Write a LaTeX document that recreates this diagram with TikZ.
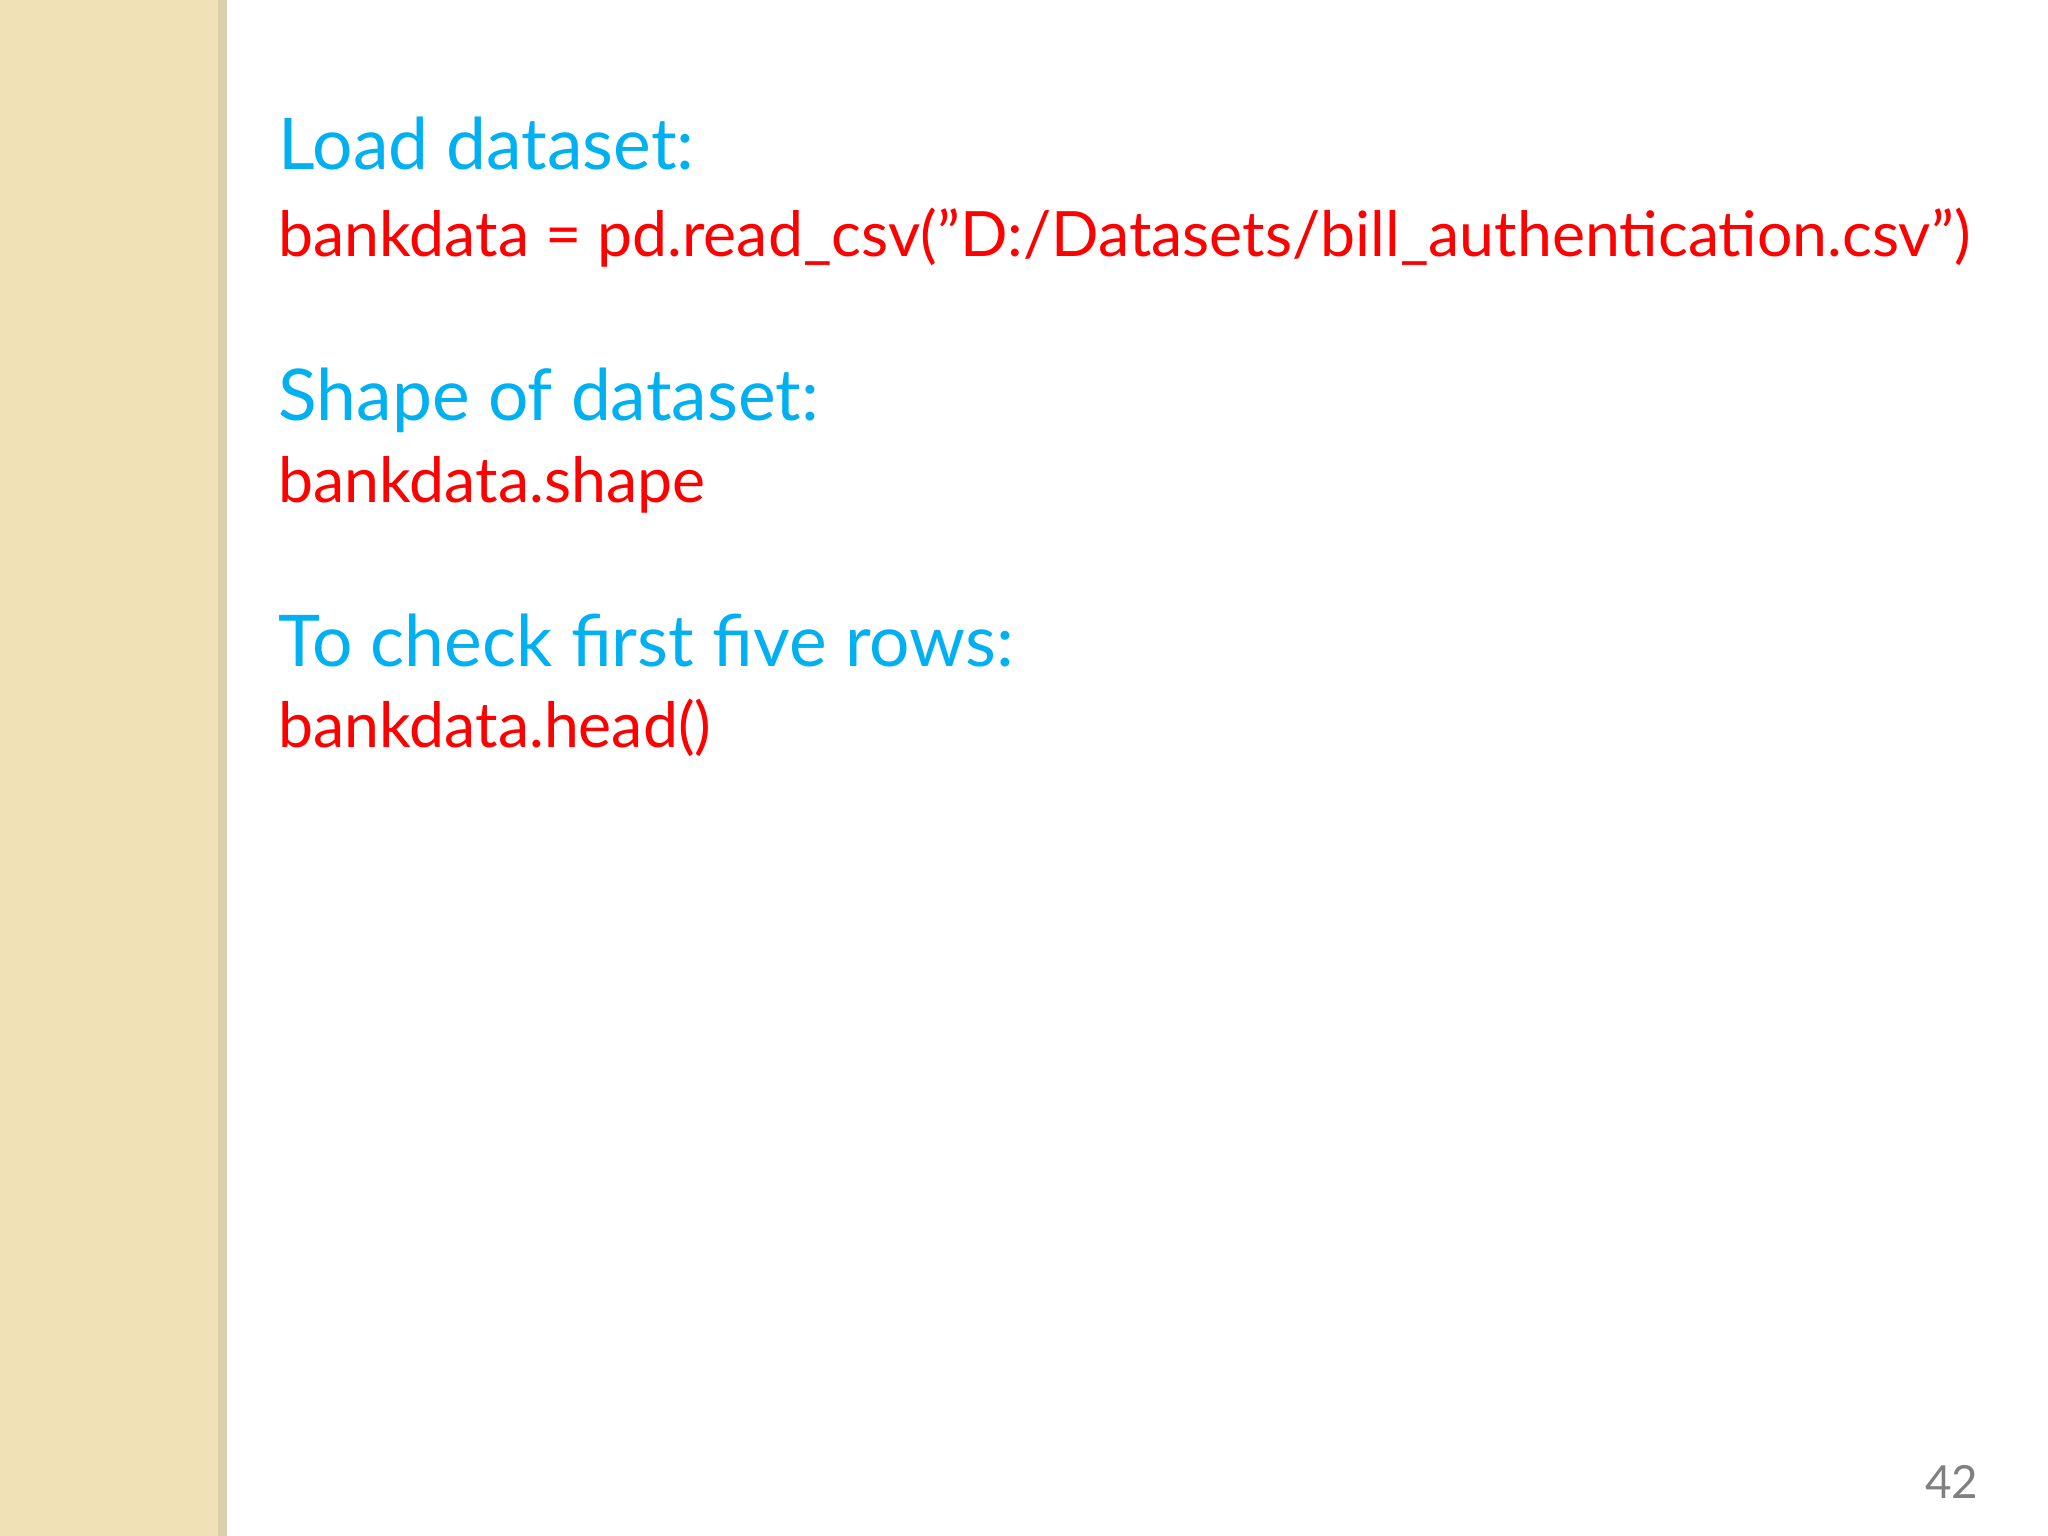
\documentclass[tikz,border=0pt]{standalone}
\usepackage{fontspec}
\defaultfontfeatures{}
\setmainfont{Lato}
\definecolor{cb}{RGB}{0,176,240}
\definecolor{cr}{RGB}{255,0,0}
\definecolor{strip}{RGB}{240,226,182}
\begin{document}
\begin{tikzpicture}[x=1cm,y=-1cm,
  hd/.style={anchor=base west,inner sep=0,text=cb,font=\fontsize{20.3}{24}\selectfont},
  cd/.style={anchor=base west,inner sep=0,text=cr,font=\fontsize{17.8}{20}\selectfont}]
\useasboundingbox (0,0) rectangle (20.48,15.36);
\fill[white] (0,0) rectangle (20.48,15.36);
\fill[strip] (0,0) rectangle (2.22,15.36);
\fill[strip!80!gray] (2.18,0) rectangle (2.27,15.36);
\node[hd] (t1) at (2.78,1.70) {Load dataset:};
\node[cd] (c1) at (2.78,2.57) {bankdata = pd.read\_csv(\symbol{34}D:/Datasets/bill\_authentication.csv\symbol{34})};
\node[hd] (t2) at (2.78,4.21) {Shape of dataset:};
\node[cd] (c2) at (2.78,5.03) {bankdata.shape};
\node[hd] (t3) at (2.78,6.67) {To check first five rows:};
\node[cd] (c3) at (2.78,7.48) {bankdata.head()};
\node[anchor=base east,inner sep=0,text=gray,font=\fontsize{13}{15}\selectfont] (pg) at (19.79,14.98) {42};
\end{tikzpicture}
\end{document}
